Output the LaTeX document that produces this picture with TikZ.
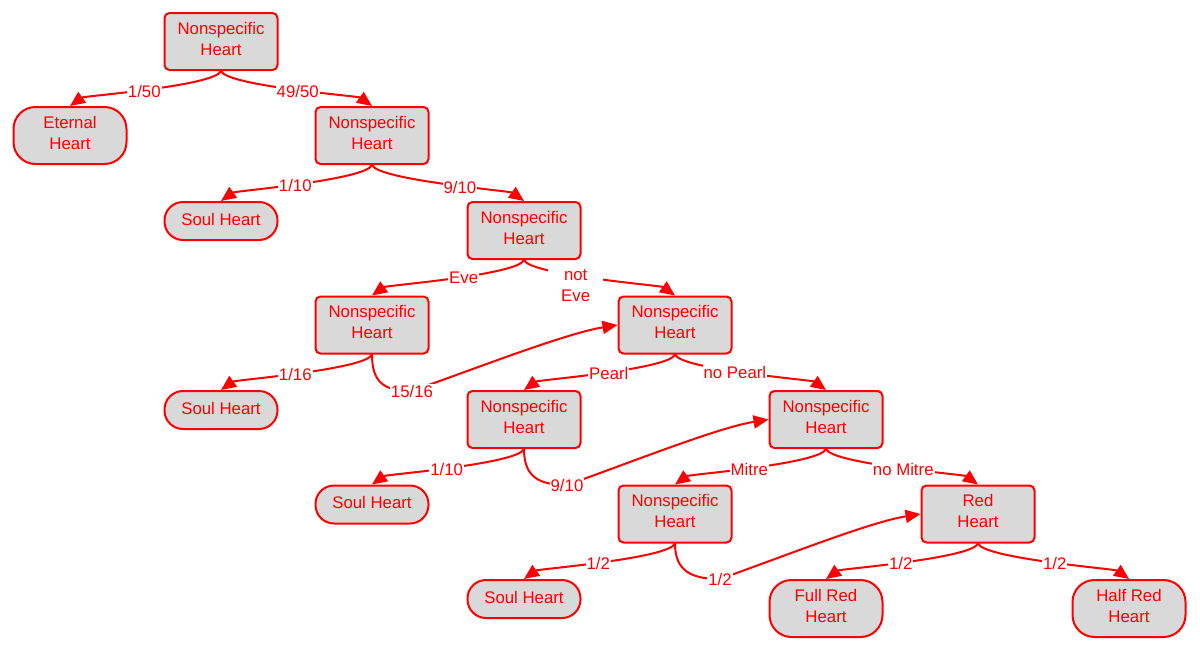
\documentclass[tikz,border=0pt]{standalone}
\usepackage{fontspec}
\setmainfont{Liberation Sans}
\usepackage{xcolor}
\usetikzlibrary{arrows.meta}
\definecolor{heartred}{RGB}{255,0,0}
\definecolor{heartgray}{RGB}{217,217,217}

\begin{document}
\begin{tikzpicture}[x=1pt,y=-1pt,
  every node/.style={text=heartred,font=\fontsize{16.8}{21}\selectfont,align=center},
  state/.style={draw=heartred,fill=heartgray,line width=2pt,rounded corners=5pt,
    minimum width=113pt,minimum height=57pt,inner sep=0pt,text depth=6pt},
  leaf/.style={state,rounded corners=22pt},
  soul/.style={state,rounded corners=18.5pt,minimum height=38pt,text depth=4pt},
  edge/.style={draw=heartred,line width=2pt,-{Triangle[length=15pt,width=13pt]}},
  lbl/.style={fill=white,inner sep=1pt}]
  \useasboundingbox (0,0) rectangle (1200,651);

  	\node[state] (root) at (221,41.5) {Nonspecific\\Heart};
  	\node[leaf] (eternal) at (70,135.5) {Eternal\\Heart};
  	\node[state] (n2) at (372,135.5) {Nonspecific\\Heart};
  	\node[soul] (soul1) at (221,221) {Soul Heart};
  	\node[state] (n3) at (524,230.5) {Nonspecific\\Heart};
  	\node[state] (eve) at (372,325) {Nonspecific\\Heart};
  	\node[state] (noteve) at (675,325) {Nonspecific\\Heart};
  	\node[soul] (soul2) at (221,410) {Soul Heart};
  	\node[state] (pearl) at (524,419.5) {Nonspecific\\Heart};
  	\node[state] (nopearl) at (826,419.5) {Nonspecific\\Heart};
  	\node[soul] (soul3) at (372,504.5) {Soul Heart};
  	\node[state] (mitre) at (675,514) {Nonspecific\\Heart};
  	\node[state] (red) at (978,514) {Red\\Heart};
  	\node[soul] (soul4) at (524,599) {Soul Heart};
  	\node[leaf] (full) at (826,608.5) {Full Red\\Heart};
  	\node[leaf] (half) at (1129,608.5) {Half Red\\Heart};

  	\draw[edge] (root.south) .. controls +(-6,15) and +(14,-10) .. node[lbl,pos=.52]{1/50} (eternal.north);
  	\draw[edge] (root.south) .. controls +(6,15) and +(-14,-10) .. node[lbl,pos=.52]{49/50} (n2.north);
  	\draw[edge] (n2.south) .. controls +(-6,15) and +(14,-10) .. node[lbl,pos=.52]{1/10} (soul1.north);
  	\draw[edge] (n2.south) .. controls +(6,15) and +(-14,-10) .. node[lbl,pos=.57]{9/10} (n3.north);
  	\draw[edge] (n3.south) .. controls +(-6,15) and +(14,-10) .. node[lbl,pos=.44]{Eve} (eve.north);
  	\draw[edge] (n3.south) .. controls +(6,15) and +(-14,-10) .. node[lbl,pos=.40,yshift=-10pt,inner xsep=13pt]{not\\Eve} (noteve.north);
  	\draw[edge] (eve.south) .. controls +(-6,15) and +(14,-10) .. node[lbl,pos=.52]{1/16} (soul2.north);
  	\draw[edge] (eve.south) .. controls +(0,28) and +(-28,0) .. (412,391) node[lbl]{15/16} .. controls +(70,-25) and +(-50,8) .. (noteve.west);
  	\draw[edge] (noteve.south) .. controls +(-6,15) and +(14,-10) .. node[lbl,pos=.47]{Pearl} (pearl.north);
  	\draw[edge] (noteve.south) .. controls +(6,15) and +(-14,-10) .. node[lbl,pos=.44]{no Pearl} (nopearl.north);
  	\draw[edge] (pearl.south) .. controls +(-6,15) and +(14,-10) .. node[lbl,pos=.52]{1/10} (soul3.north);
  	\draw[edge] (pearl.south) .. controls +(0,28) and +(-28,0) .. (567,485) node[lbl]{9/10} .. controls +(70,-25) and +(-50,8) .. (nopearl.west);
  	\draw[edge] (nopearl.south) .. controls +(-6,15) and +(14,-10) .. node[lbl,pos=.52]{Mitre} (mitre.north);
  	\draw[edge] (nopearl.south) .. controls +(6,15) and +(-14,-10) .. node[lbl,pos=.52]{no Mitre} (red.north);
  	\draw[edge] (mitre.south) .. controls +(-6,15) and +(14,-10) .. node[lbl,pos=.52]{1/2} (soul4.north);
  	\draw[edge] (mitre.south) .. controls +(0,28) and +(-28,0) .. (720,579) node[lbl]{1/2} .. controls +(70,-25) and +(-50,8) .. (red.west);
  	\draw[edge] (red.south) .. controls +(-6,15) and +(14,-10) .. node[lbl,pos=.52]{1/2} (full.north);
  	\draw[edge] (red.south) .. controls +(6,15) and +(-14,-10) .. node[lbl,pos=.52]{1/2} (half.north);
\end{tikzpicture}
\end{document}
